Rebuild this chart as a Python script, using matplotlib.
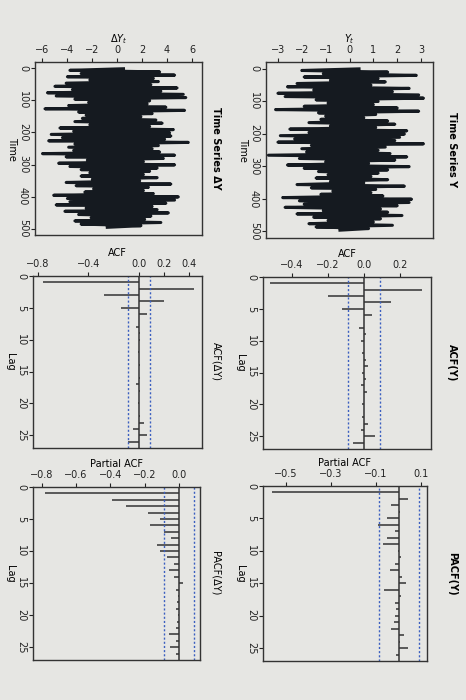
import numpy as np
import matplotlib

matplotlib.use("Agg")
import matplotlib.pyplot as plt

# serie Y (amostrada a cada 5 periodos) e serie diferenciada
TEMPO = list(range(1, 501, 5))
Y = [0.4, -2.0, 1.6, -1.1, 2.8, -1.9, 1.2, -0.8, 1.5, -2.2,
     0.9, -2.6, 2.5, -1.5, 1.8, -3.0, 2.9, -2.7, 3.1, -1.4,
     1.2, -0.9, 1.0, -1.9, 2.0, -3.1, 2.9, -1.3, 1.1, -1.0,
     0.6, -1.2, 1.6, -1.7, 1.9, -0.8, 1.1, -2.5, 2.4, -1.7,
     2.3, -2.9, 2.1, -2.3, 1.9, -3.0, 3.1, -1.6, 1.5, -2.0,
     1.2, -1.8, 1.7, -3.4, 2.4, -2.1, 1.9, -1.0, 0.8, -2.6,
     2.5, -1.9, 1.6, -1.3, 1.2, -0.9, 0.9, -1.4, 1.6, -0.8,
     0.6, -2.2, 2.3, -1.6, 1.1, -0.7, 0.9, -1.2, 1.4, -2.8,
     2.6, -2.1, 2.5, -1.9, 2.0, -2.7, 1.3, -1.1, 1.6, -2.2,
     2.2, -1.5, 1.3, -0.9, 1.0, -1.7, 1.8, -1.4, 0.8, -0.4]
DY = [0.5, -3.8, 3.4, -2.9, 4.6, -4.0, 2.9, -2.2, 3.3, -4.1,
      2.7, -5.0, 4.8, -3.6, 3.5, -5.6, 5.3, -4.9, 5.5, -3.4,
      2.6, -2.3, 2.4, -3.9, 3.9, -5.8, 5.4, -3.1, 2.8, -2.5,
      1.9, -2.8, 3.1, -3.4, 3.6, -2.2, 2.6, -4.6, 4.5, -3.5,
      4.2, -5.3, 4.3, -4.4, 3.8, -5.5, 5.7, -3.4, 3.3, -3.9,
      2.8, -3.5, 3.4, -6.0, 4.6, -4.1, 3.7, -2.4, 2.1, -4.7,
      4.6, -3.8, 3.2, -2.9, 2.6, -2.2, 2.1, -2.9, 3.2, -2.0,
      1.8, -4.1, 4.3, -3.3, 2.5, -1.9, 2.1, -2.6, 2.9, -5.1,
      4.9, -4.0, 4.6, -3.8, 3.9, -4.9, 2.8, -2.5, 3.2, -4.2,
      4.1, -3.1, 2.7, -2.1, 2.2, -3.4, 3.5, -2.9, 1.9, -0.8]

LAGS = list(range(1, 27))
ACF_Y = [-0.52, 0.32, -0.20, 0.15, -0.12, 0.045, 0.0, -0.03, 0.01, -0.02,
         0.0, -0.01, 0.01, 0.02, -0.01, 0.01, -0.015, 0.015, 0.0, -0.01,
         0.0, -0.01, 0.02, -0.02, 0.06, -0.06]
PACF_Y = [-0.56, 0.04, -0.035, 0.005, -0.05, -0.09, -0.015, -0.05, -0.07, -0.005,
          0.01, -0.015, -0.04, 0.015, 0.03, -0.065, 0.01, -0.015, -0.01, -0.015,
          -0.02, -0.035, 0.025, 0.005, 0.04, -0.01]
ACF_DY = [-0.76, 0.44, -0.28, 0.20, -0.14, 0.065, 0.0, -0.025, 0.01, 0.005,
          0.0, -0.01, 0.0, 0.01, 0.0, 0.01, -0.02, 0.01, 0.0, -0.01,
          0.0, 0.01, 0.04, -0.05, 0.06, -0.09]
PACF_DY = [-0.78, -0.39, -0.31, -0.18, -0.11, -0.17, -0.09, -0.05, -0.13, -0.11,
           -0.07, -0.03, -0.06, -0.03, 0.02, -0.02, -0.01, -0.015, -0.02, -0.01,
           -0.015, -0.02, -0.06, -0.02, -0.055, -0.02]
LIMITE = 0.088

FUNDO = "#e6e6e3"
W, H = 466, 700


def eixo(box):
    x0, y0, x1, y1 = box
    return fig.add_axes([x0 / W, 1 - y1 / H, (x1 - x0) / W, (y1 - y0) / H])


def estilo(ax, xlabel, ylabel, xticks, yticks, xfmt="{:g}"):
    ax.set_facecolor(FUNDO)
    ax.xaxis.tick_top()
    ax.xaxis.set_label_position("top")
    ax.set_xticks(xticks)
    ax.set_xticklabels([xfmt.format(t).replace("-", "\u2212") for t in xticks], fontsize=7)
    ax.set_yticks(yticks)
    ax.set_yticklabels([str(t) for t in yticks], rotation=-90, fontsize=7, va="center")
    ax.set_xlabel(xlabel, fontsize=7, labelpad=2)
    ax.set_ylabel(ylabel, fontsize=7, rotation=-90, labelpad=8)
    ax.tick_params(length=3, width=0.8, pad=2, colors="#222222")
    for s in ax.spines.values():
        s.set_linewidth(1.0)
        s.set_color("#333333")


def serie(box, vals, xlim, xticks, xlabel, titulo, tx):
    ax = eixo(box)
    ax.plot(vals, TEMPO, color="#151a20", linewidth=2.2)
    ax.set_xlim(xlim)
    ax.set_ylim(520, -20)
    estilo(ax, xlabel, "Time", xticks, [0, 100, 200, 300, 400, 500])
    fig.text(tx / W, 1 - ((box[1] + box[3]) / 2) / H, titulo, rotation=-90,
             fontsize=7, fontweight="bold", ha="center", va="center")


def correl(box, vals, xlim, xticks, xlabel, titulo, tx, xfmt="{:.1f}"):
    ax = eixo(box)
    ax.hlines(LAGS, 0, vals, color="#333333", linewidth=1.1)
    ax.axvline(0, color="#333333", linewidth=1.1)
    for b in (-LIMITE, LIMITE):
        ax.axvline(b, color="#3b5fc0", linestyle=(0, (1.5, 1.5)), linewidth=1.0)
    ax.set_xlim(xlim)
    ax.set_ylim(27, 0)
    estilo(ax, xlabel, "Lag", xticks, [0, 5, 10, 15, 20, 25], xfmt)
    fig.text(tx / W, 1 - ((box[1] + box[3]) / 2) / H, titulo, rotation=-90,
             fontsize=7, fontweight="bold" if "\u0394" not in titulo else "normal",
             ha="center", va="center")


fig = plt.figure(figsize=(W / 100, H / 100), dpi=100, facecolor=FUNDO)

serie((266, 62, 433, 238), Y, (-3.5, 3.5), [-3, -2, -1, 0, 1, 2, 3],
      "$Y_t$", "Time Series Y", 452)
correl((263, 277, 431, 449), ACF_Y, (-0.56, 0.37), [-0.4, -0.2, 0.0, 0.2],
       "ACF", "ACF(Y)", 452)
correl((263, 486, 427, 661), PACF_Y, (-0.6, 0.125), [-0.5, -0.3, -0.1, 0.1],
       "Partial ACF", "PACF(Y)", 452)

serie((35, 62, 202, 235), DY, (-6.6, 6.8), [-6, -4, -2, 0, 2, 4, 6],
      "$\\Delta Y_t$", "Time Series \u0394Y", 216)
correl((33, 276, 202, 448), ACF_DY, (-0.84, 0.5), [-0.8, -0.4, 0.0, 0.2, 0.4],
       "ACF", "ACF(\u0394Y)", 216)
correl((33, 487, 200, 660), PACF_DY, (-0.85, 0.12), [-0.8, -0.6, -0.4, -0.2, 0.0],
       "Partial ACF", "PACF(\u0394Y)", 216)

fig.savefig("out.png", dpi=100, facecolor=FUNDO)
